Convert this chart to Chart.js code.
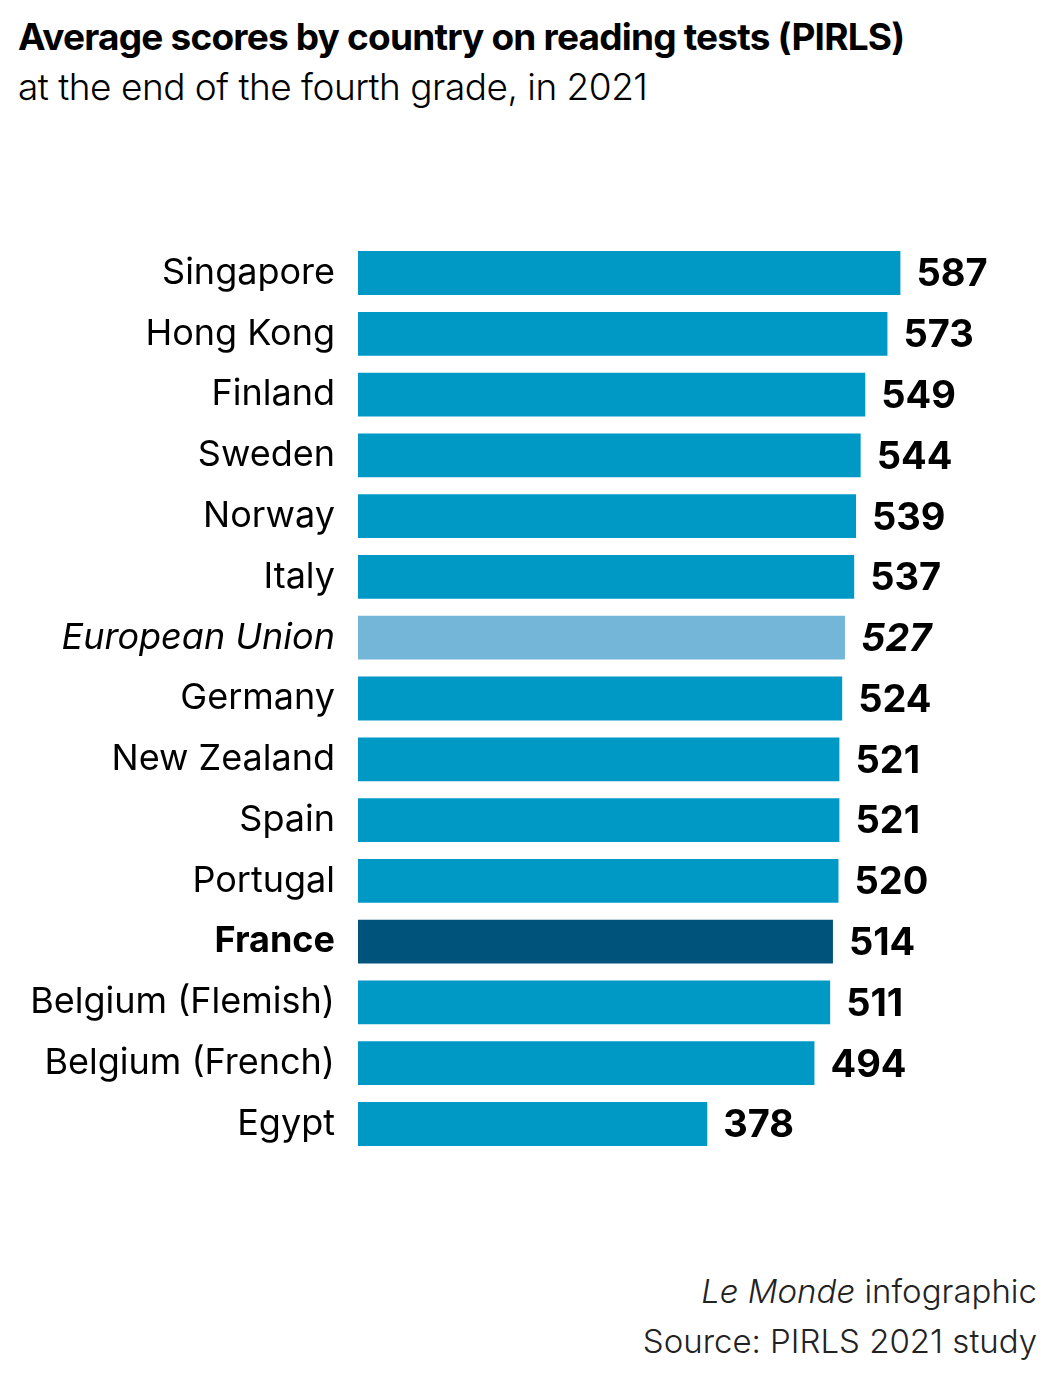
<!DOCTYPE html>
<html><head><meta charset="utf-8">
<script src="https://cdn.jsdelivr.net/npm/chart.js@4"></script>
<style>
body{margin:0;width:1051px;height:1375px;background:#fff;font-family:Inter,"Noto Sans",sans-serif;position:relative;overflow:hidden}
#t{position:absolute;left:18px;top:14px;font-size:37px;font-weight:700;letter-spacing:-0.8px;color:#000}
#s{position:absolute;left:18px;top:64px;font-size:37px;font-weight:300;letter-spacing:-0.5px;color:#000}
#f{position:absolute;right:14px;top:1266px;font-size:33px;font-weight:300;text-align:right;line-height:50px;color:#222}
#w{position:absolute;left:0;top:206px;width:1051px;height:985px}
</style></head><body>
<div id="t">Average scores by country on reading tests (PIRLS)</div>
<div id="s">at the end of the fourth grade, in 2021</div>
<div id="w"><canvas id="c"></canvas></div>
<div id="f"><i>Le Monde</i> infographic<br>Source: PIRLS 2021 study</div>
<script>
const countries=["Singapore","Hong Kong","Finland","Sweden","Norway","Italy","European Union","Germany","New Zealand","Spain","Portugal","France","Belgium (Flemish)","Belgium (French)","Egypt"];
const scores=[587,573,549,544,539,537,527,524,521,521,520,514,511,494,378];
const EU="European Union",FR="France";
const colors=countries.map(c=>c===EU?"#74b6d8":c===FR?"#00537a":"#0099c6");
const valPlugin={id:"v",afterDatasetsDraw(ch){const ctx=ch.ctx;const m=ch.getDatasetMeta(0);ctx.save();ctx.fillStyle="#000";ctx.textBaseline="middle";
m.data.forEach((b,i)=>{ctx.font=(countries[i]===EU?"italic ":"")+"700 38px Inter, 'Noto Sans', sans-serif";ctx.fillText(scores[i],b.x+16,b.y+2);});ctx.restore();}};
new Chart(document.getElementById("c"),{type:"bar",
data:{labels:countries,datasets:[{data:scores,backgroundColor:colors,barPercentage:0.72,categoryPercentage:1}]},
options:{indexAxis:"y",responsive:true,maintainAspectRatio:false,animation:false,
layout:{padding:0},
plugins:{legend:{display:false},tooltip:{enabled:false}},
scales:{x:{display:false,min:0,max:750},
y:{grid:{display:false},border:{display:false},afterFit(s){s.width=358;},
ticks:{padding:15,color:"#000",font:(c)=>{const l=countries[c.index];return {family:"Inter, 'Noto Sans', sans-serif",size:36,style:l===EU?"italic":"normal",weight:l===FR?"700":"400"};}}}}},
plugins:[valPlugin]});
</script></body></html>
